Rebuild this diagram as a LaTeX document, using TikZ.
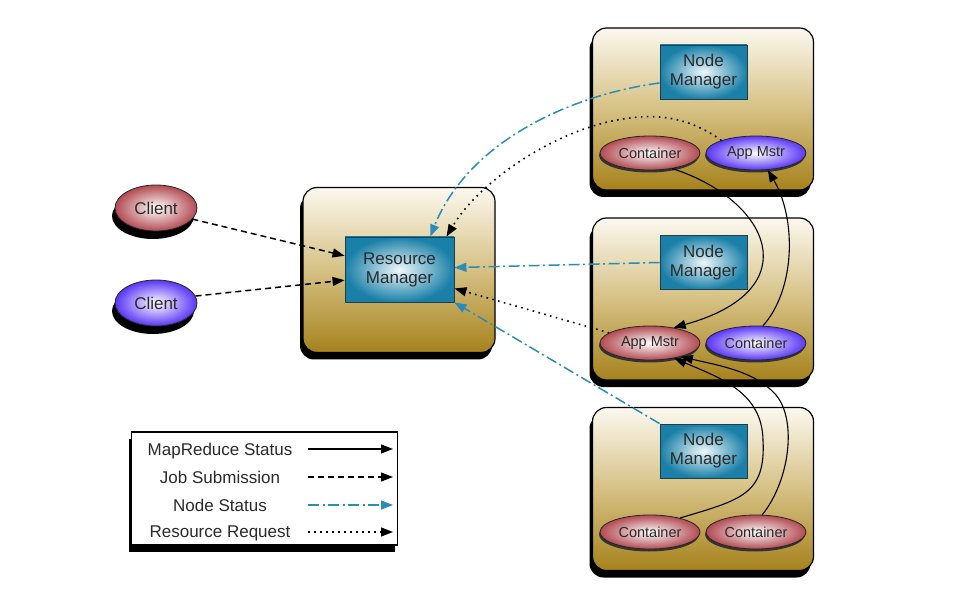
\documentclass[tikz,border=0pt]{standalone}
\usepackage{fontspec}
\setmainfont{Liberation Sans}
\usetikzlibrary{arrows.meta,shapes.geometric,shadows}
\definecolor{boxtop}{HTML}{FBF8EF}
\definecolor{boxmid}{HTML}{D6C184}
\definecolor{boxbot}{HTML}{A6821C}
\definecolor{nmblue}{HTML}{1A80A8}
\definecolor{nmin}{HTML}{EEF8FB}
\definecolor{bluedark}{HTML}{1E3E4C}
\definecolor{ellred}{HTML}{B24B52}
\definecolor{ellpurple}{HTML}{5A36F5}
\definecolor{nsblue}{HTML}{2A8DB8}
\definecolor{txt}{HTML}{2A2A2A}
\newcommand{\bigfnt}{\fontsize{17}{19}\selectfont}
\newcommand{\smallfnt}{\fontsize{14.5}{16}\selectfont}
\begin{document}
\begin{tikzpicture}[x=1pt,y=-1pt,
  tip/.style={-{Triangle[length=12pt,width=9pt]}},
  outerbox/.style={draw=black, line width=1.2pt, rounded corners=14pt,
    top color=boxtop, bottom color=boxbot, middle color=boxmid,
    inner sep=0pt,
    drop shadow={shadow xshift=-3pt,shadow yshift=-7pt,opacity=1,fill=black}},
  bluebox/.style={draw=bluedark, line width=0.9pt, inner color=nmin, outer color=nmblue,
    minimum width=87pt, minimum height=54pt, inner sep=0pt, align=center,
    font=\bigfnt, text=txt},
  smallell/.style={ellipse, draw=black!85, line width=0.8pt, inner color=white,
    minimum width=100pt, minimum height=34pt, inner sep=0pt, font=\smallfnt, text=txt,
    drop shadow={shadow xshift=-1pt,shadow yshift=-2.5pt,opacity=1,fill=black!80}},
  redell/.style={smallell, outer color=ellred},
  purpell/.style={smallell, outer color=ellpurple},
  clientell/.style={ellipse, draw=black!85, line width=0.8pt, inner color=white,
    minimum width=82pt, minimum height=46pt, inner sep=0pt, font=\bigfnt, text=txt,
    drop shadow={shadow xshift=-3pt,shadow yshift=-8pt,opacity=1,fill=black}},
  legendtxt/.style={font=\bigfnt, text=txt, inner sep=0pt, anchor=base},
  mrstat/.style={draw=black, line width=1.1pt, tip},
  jobsub/.style={draw=black, line width=1.5pt, dash pattern=on 6pt off 4pt, tip},
  nodestat/.style={draw=nsblue, line width=1.5pt,
    dash pattern=on 11pt off 3.5pt on 2pt off 3.5pt, tip},
  resreq/.style={draw=black, line width=1.6pt, dash pattern=on 1.6pt off 4.4pt, tip}
]
\useasboundingbox (0,0) rectangle (958,601);

% outer boxes
\node[outerbox, minimum width=192pt, minimum height=165pt] (rmbox) at (399,270) {};
\node[outerbox, minimum width=221pt, minimum height=162pt] (nmbox1) at (703,109) {};
\node[outerbox, minimum width=221pt, minimum height=162pt] (nmbox2) at (703,299) {};
\node[outerbox, minimum width=221pt, minimum height=163pt] (nmbox3) at (703,489) {};

% resource manager and node managers
\node[bluebox, minimum width=109pt, minimum height=65pt] (rm) at (399.5,269.5) {Resource\\Manager};
\node[bluebox] (nm1) at (703.5,72) {Node\\Manager};
\node[bluebox] (nm2) at (703.5,262.5) {Node\\Manager};
\node[bluebox] (nm3) at (703.5,451) {Node\\Manager};

% containers / app masters
\node[redell] (c11) at (650,153) {Container};
\node[purpell] (am1) at (756,153) {App Mstr};
\node[redell] (am2) at (650,343) {App Mstr};
\node[purpell] (c21) at (756,343) {Container};
\node[redell] (c31) at (650,532) {Container};
\node[redell] (c32) at (756,532) {Container};

% clients
\node[clientell, outer color=ellred] (cl1) at (156,208) {Client};
\node[clientell, outer color=ellpurple] (cl2) at (156,303) {Client};

% legend
\node[draw=black, line width=1.2pt, fill=white, minimum width=266pt, minimum height=113pt,
  drop shadow={shadow xshift=-3pt,shadow yshift=-7pt,opacity=1,fill=black}] (legend) at (264.5,488.5) {};
\node[legendtxt] (lt1) at (220,455) {MapReduce Status};
\node[legendtxt] (lt2) at (220,483) {Job Submission};
\node[legendtxt] (lt3) at (220,511) {Node Status};
\node[legendtxt] (lt4) at (220,537) {Resource Request};
\coordinate (l1a) at (308,449); \coordinate (l1b) at (393,449);
\coordinate (l2a) at (308,477); \coordinate (l2b) at (393,477);
\coordinate (l3a) at (308,505); \coordinate (l3b) at (393,505);
\coordinate (l4a) at (308,532); \coordinate (l4b) at (393,532);
\draw[mrstat] (l1a) -- (l1b);
\draw[jobsub, line width=1.1pt] (l2a) -- (l2b);
\draw[nodestat, line width=1.1pt] (l3a) -- (l3b);
\draw[resreq, line width=1.2pt] (l4a) -- (l4b);

% job submission
\draw[jobsub] (cl1.-17) -- (rm.166);
\draw[jobsub] (cl2.10) -- (rm.191);

% node status
\draw[nodestat] (nm1.194) .. controls (570,95) and (468,142) .. (rm.47);
\draw[nodestat] (nm2.west) -- (rm.2);
\draw[nodestat] (nm3.north west) -- (rm.south east);

% resource requests
\draw[resreq] (am1.160) .. controls (690,118) and (660,114) .. (630,118)
  .. controls (560,126) and (480,180) .. (rm.35);
\draw[resreq] (am2.166) -- (rm.-19);

% mapreduce status
\draw[mrstat] (c11.-35) .. controls (770,200) and (810,290) .. (am2.33);
\draw[mrstat] (c21.68) .. controls (795,290) and (797,220) .. (am1.-55);
\draw[mrstat] (c31.25) .. controls (740,500) and (766,495) .. (763,440)
  .. controls (762,392) and (720,378) .. (am2.-32);
\draw[mrstat] (c32.70) .. controls (790,480) and (797,420) .. (776,395)
  .. controls (756,372) and (722,366) .. (am2.-24);
\end{tikzpicture}
\end{document}
